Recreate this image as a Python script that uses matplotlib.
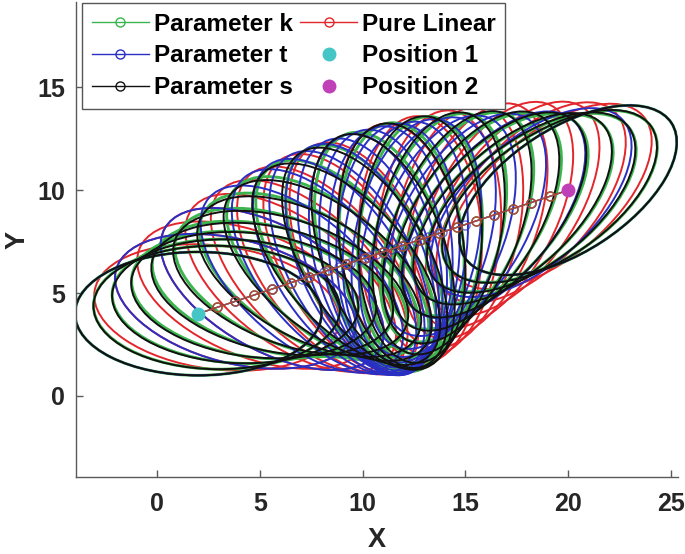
import matplotlib
matplotlib.use("Agg")
import matplotlib.pyplot as plt
from matplotlib.patches import Ellipse

plt.rcParams['font.family'] = ['Liberation Sans', 'DejaVu Sans']
plt.rcParams['font.weight'] = 'bold'

# ---- data -------------------------------------------------------------
pos1 = (2, 4)
pos2 = (20, 10)
semi_major = 6.0
semi_minor = 3.0

# centre positions (uniform steps along the segment Position 1 -> Position 2)
uni_x = [2.0, 2.9, 3.8, 4.7, 5.6, 6.5, 7.4, 8.3, 9.2, 10.1, 11.0,
         11.9, 12.8, 13.7, 14.6, 15.5, 16.4, 17.3, 18.2, 19.1, 20.0]
uni_y = [4.0, 4.3, 4.6, 4.9, 5.2, 5.5, 5.8, 6.1, 6.4, 6.7, 7.0,
         7.3, 7.6, 7.9, 8.2, 8.5, 8.8, 9.1, 9.4, 9.7, 10.0]

# parameter t: centres crowd towards the middle
t_x = [2.0, 3.8, 5.6, 7.04, 8.12, 8.84, 9.38, 9.92, 10.28, 10.64, 11.0,
       11.36, 11.72, 12.08, 12.62, 13.16, 13.88, 14.96, 16.4, 18.2, 20.0]
t_y = [4.0, 4.6, 5.2, 5.68, 6.04, 6.28, 6.46, 6.64, 6.76, 6.88, 7.0,
       7.12, 7.24, 7.36, 7.54, 7.72, 7.96, 8.32, 8.8, 9.4, 10.0]

# orientation of the ellipse (degrees) at every step
ang_linear = [0, -7.4, -14.7, -22.1, -29.4, -36.8, -44.1, -51.5, -58.8, -66.2, -73.5,
              -80.9, -88.2, -95.6, -102.9, -110.3, -117.6, -125.0, -132.3, -139.7, -147]
ang_k = [0, -1.1, -4.1, -8.9, -15.3, -23.0, -31.8, -41.4, -51.7, -62.5, -73.5,
         -84.5, -95.3, -105.6, -115.2, -124.0, -131.7, -138.1, -142.9, -145.9, -147]
ang_t = [0, -14.7, -29.4, -41.2, -50.0, -56.0, -61.0, -66.0, -71.0, -76.0, -81.0,
         -86.0, -91.0, -96.0, -101.0, -106.0, -112.0, -120.0, -129.0, -138.0, -147]
ang_s = [0, -0.8, -3.2, -7.2, -13.0, -20.3, -28.8, -38.2, -48.3, -59.0, -70.0,
         -81.5, -92.5, -103.0, -113.0, -122.0, -130.0, -136.8, -142.0, -145.5, -147]

series = {
    # label: xs, ys, angles, colour, ellipse linewidth
    "Pure Linear": (uni_x, uni_y, ang_linear, "#e3262b", 1.4),
    "Parameter k": (uni_x, uni_y, ang_k, "#3cb54e", 2.1),
    "Parameter t": (t_x, t_y, ang_t, "#2a2fc4", 1.4),
    "Parameter s": (uni_x, uni_y, ang_s, "#111111", 1.4),
}
ellipse_order = ["Pure Linear", "Parameter k", "Parameter t", "Parameter s"]
path_order = ["Parameter s", "Parameter t", "Parameter k", "Pure Linear"]

# ---- figure -----------------------------------------------------------
W, H = 685, 554
fig = plt.figure(figsize=(W / 100, H / 100), dpi=100)
ax = fig.add_axes([76 / W, (H - 477) / H, (678 - 76) / W, (477 - 2) / H])

for label in ellipse_order:
    xs, ys, angs, col, lw = series[label]
    for cx, cy, a in zip(xs, ys, angs):
        ax.add_patch(Ellipse((cx, cy), 2 * semi_major, 2 * semi_minor, angle=a,
                             fill=False, edgecolor=col, lw=lw, zorder=2))

handles = {}
for label in path_order:
    xs, ys, angs, col, lw = series[label]
    h, = ax.plot(xs, ys, 'o-', color=col, mfc='none', ms=6.5, mew=1.0, lw=1.0,
                 alpha=0.7, zorder=3, label=label)
    handles[label] = h

h1, = ax.plot([pos1[0]], [pos1[1]], 'o', color='#45c6c6', ms=9, ls='none',
              zorder=4, label='Position 1')
h2, = ax.plot([pos2[0]], [pos2[1]], 'o', color='#c040b8', ms=9, ls='none',
              zorder=4, label='Position 2')

ax.set_xlim(-3.95, 25.35)
ax.set_ylim(-3.94, 19.15)
ax.set_xticks([0, 5, 10, 15, 20, 25])
ax.set_yticks([0, 5, 10, 15])

for s in ['top', 'right']:
    ax.spines[s].set_visible(False)
for s in ['left', 'bottom']:
    ax.spines[s].set_color('#5a5a5a')
    ax.spines[s].set_linewidth(1.0)

ax.tick_params(direction='in', length=5, width=1, color='#5a5a5a',
               labelcolor='#262626', labelsize=18)
ax.tick_params(axis='x', pad=11)
ax.tick_params(axis='y', pad=8)
for t in ax.get_xticklabels() + ax.get_yticklabels():
    t.set_fontweight('bold')

ax.set_xlabel('X', fontsize=19.5, fontweight='bold', color='#262626', va='baseline')
ax.set_ylabel('Y', fontsize=19.5, fontweight='bold', color='#262626', va='baseline')
ax.xaxis.set_label_coords(0.5, (477 - 547) / 475)
ax.yaxis.set_label_coords((25 - 76) / 602, 0.5)

leg_order = [handles["Parameter k"], handles["Parameter t"], handles["Parameter s"],
             handles["Pure Linear"], h1, h2]
leg = ax.legend(handles=leg_order, labels=[h.get_label() for h in leg_order],
                ncol=2, loc='upper left', bbox_to_anchor=(0.01, 0.998),
                borderaxespad=0, prop={'size': 17.5, 'weight': 'bold'},
                handlelength=2.35, handletextpad=0.2, columnspacing=0.3,
                labelspacing=0.36, borderpad=0.4, fancybox=False,
                framealpha=1, edgecolor='#555555')
leg.get_frame().set_linewidth(1.0)
for lh in leg.get_lines():
    lh.set_alpha(1)

fig.savefig('out.png', dpi=100)
